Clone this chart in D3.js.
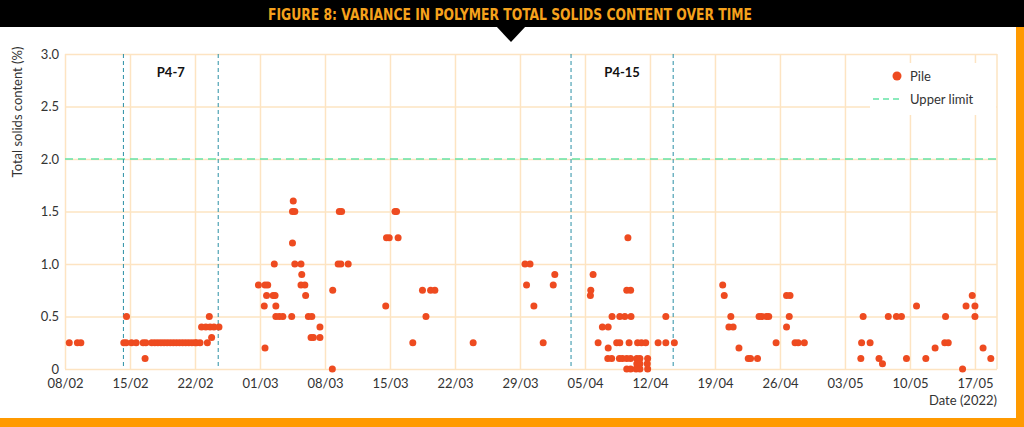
<!doctype html>
<html lang="en">
<head>
  <meta charset="utf-8">
  <title>Figure 8</title>
  <script src="https://d3js.org/d3.v7.min.js"></script>
  <style type="text/css">
    body { margin:0; background:#fff; }
    text { font-family: Lato, "Noto Sans", sans-serif; fill:#333; }
    .grid line, .grid path { stroke:#fde4c2; stroke-width:1.5; }
    .period { stroke:#2a8fa5; stroke-width:1; stroke-dasharray:4,3; }
    .limit { stroke:#66e3a6; stroke-width:1.5; stroke-dasharray:8,5; fill:none; }
    .dot { fill:#ee4b20; }
  </style>
</head>
<body>
<script type="text/javascript">

  var W = 1024, H = 427;
  var plot = {left:65, right:997, top:54, bottom:369};

  var title = "FIGURE 8: VARIANCE IN POLYMER TOTAL SOLIDS CONTENT OVER TIME";

  var xTickLabels = ["08/02","15/02","22/02","01/03","08/03","15/03","22/03","29/03",
                     "05/04","12/04","19/04","26/04","03/05","10/05","17/05"];
  var yTicks = [0, 0.5, 1.0, 1.5, 2.0, 2.5, 3.0];

  var upperLimit = 2.0;
  var periodNames = ["P4-7", "P4-15"];
  var periodStart = ["2022-02-14 07", "2022-04-03 12"];
  var periodEnd   = ["2022-02-24 12", "2022-04-14 12"];

  // pile samples: date-hour, total solids %
  var pileDates = [
    "2022-02-08 11","2022-02-09 08","2022-02-09 17",
    "2022-02-14 15","2022-02-14 08","2022-02-14 14","2022-02-15 04","2022-02-15 16",
    "2022-02-16 10","2022-02-16 17","2022-02-16 15",
    "2022-02-17 08","2022-02-17 16","2022-02-18 00","2022-02-18 08","2022-02-18 16",
    "2022-02-19 00","2022-02-19 08","2022-02-19 16","2022-02-20 00","2022-02-20 08",
    "2022-02-20 16","2022-02-21 00","2022-02-21 08","2022-02-21 16","2022-02-22 00",
    "2022-02-22 04","2022-02-22 13","2022-02-23 08",
    "2022-02-22 17","2022-02-23 04","2022-02-23 15","2022-02-24 01","2022-02-24 14",
    "2022-02-23 13","2022-02-23 19",
    "2022-02-28 20","2022-03-01 13","2022-03-01 20","2022-03-01 11","2022-03-02 17",
    "2022-03-01 13","2022-03-01 17","2022-03-02 10","2022-03-02 15","2022-03-02 13",
    "2022-03-02 17","2022-03-03 02","2022-03-03 11","2022-03-04 10","2022-03-04 12",
    "2022-03-04 14","2022-03-04 12","2022-03-04 18","2022-03-04 18","2022-03-05 10",
    "2022-03-05 12","2022-03-05 10","2022-03-05 20","2022-03-05 22","2022-03-06 05",
    "2022-03-06 14","2022-03-06 12","2022-03-06 18","2022-03-07 11","2022-03-07 11",
    "2022-03-08 20","2022-03-08 19","2022-03-09 10","2022-03-09 17","2022-03-09 13",
    "2022-03-09 19","2022-03-10 12","2022-03-14 13","2022-03-14 15","2022-03-14 22",
    "2022-03-15 21","2022-03-15 13","2022-03-15 17","2022-03-17 11","2022-03-18 12",
    "2022-03-18 21","2022-03-19 09","2022-03-19 20","2022-03-23 23",
    "2022-03-29 13","2022-03-30 02","2022-03-29 17","2022-03-30 12","2022-04-01 18",
    "2022-04-01 14","2022-03-31 12",
    "2022-04-05 21","2022-04-05 15","2022-04-05 14","2022-04-06 10","2022-04-06 21",
    "2022-04-07 12","2022-04-07 22","2022-04-07 12","2022-04-07 11","2022-04-07 21",
    "2022-04-08 10","2022-04-08 18","2022-04-08 18","2022-04-09 07","2022-04-09 23",
    "2022-04-08 17","2022-04-09 01","2022-04-09 12","2022-04-09 22","2022-04-09 12",
    "2022-04-09 22","2022-04-09 18","2022-04-09 12","2022-04-09 22","2022-04-09 15",
    "2022-04-10 16","2022-04-11 02","2022-04-11 13","2022-04-10 14","2022-04-10 22",
    "2022-04-11 18","2022-04-10 14","2022-04-10 22","2022-04-11 17","2022-04-10 12",
    "2022-04-10 22","2022-04-11 18","2022-04-12 21","2022-04-13 17","2022-04-13 17",
    "2022-04-14 15",
    "2022-04-19 20","2022-04-20 00","2022-04-20 17","2022-04-20 12","2022-04-20 23",
    "2022-04-21 14","2022-04-22 14","2022-04-22 20","2022-04-23 14","2022-04-23 18",
    "2022-04-24 01","2022-04-24 13","2022-04-24 19","2022-04-25 14","2022-04-26 17",
    "2022-04-27 02","2022-04-27 00","2022-04-26 17","2022-04-27 15","2022-04-27 23",
    "2022-04-28 15",
    "2022-05-04 17","2022-05-04 19","2022-05-04 23","2022-05-05 17","2022-05-06 16",
    "2022-05-07 01","2022-05-07 16","2022-05-08 13","2022-05-09 02","2022-05-09 15",
    "2022-05-10 17","2022-05-11 17","2022-05-12 17","2022-05-13 18","2022-05-14 03",
    "2022-05-13 20","2022-05-15 16","2022-05-16 01","2022-05-16 17","2022-05-17 00",
    "2022-05-17 00","2022-05-17 21","2022-05-18 17"
  ];
  var pileValues = [
    0.25,0.25,0.25,
    0.5,0.25,0.25,0.25,0.25,
    0.25,0.25,0.1,
    0.25,0.25,0.25,0.25,0.25,
    0.25,0.25,0.25,0.25,0.25,
    0.25,0.25,0.25,0.25,0.25,
    0.25,0.25,0.25,
    0.4,0.4,0.4,0.4,0.4,
    0.5,0.3,
    0.8,0.8,0.8,0.6,0.6,
    0.2,0.7,0.7,0.7,1.0,
    0.5,0.5,0.5,0.5,1.2,
    1.6,1.5,1.5,1.0,1.0,
    0.9,0.8,0.8,0.7,0.5,
    0.5,0.3,0.3,0.3,0.4,
    0.75,0.0,1.0,1.0,1.5,
    1.5,1.0,0.6,1.25,1.25,
    1.25,1.5,1.5,0.25,0.75,
    0.5,0.75,0.75,0.25,
    1.0,1.0,0.8,0.6,0.9,
    0.8,0.25,
    0.9,0.75,0.7,0.25,0.4,
    0.4,0.5,0.2,0.1,0.1,
    0.25,0.25,0.5,0.5,0.5,
    0.1,0.1,0.1,0.1,0.75,
    0.75,0.25,0.0,0.0,1.25,
    0.25,0.25,0.25,0.1,0.1,
    0.1,0.05,0.05,0.05,0.0,
    0.0,0.0,0.25,0.5,0.25,
    0.25,
    0.8,0.7,0.5,0.4,0.4,
    0.2,0.1,0.1,0.1,0.5,
    0.5,0.5,0.5,0.25,0.7,
    0.7,0.5,0.4,0.25,0.25,
    0.25,
    0.1,0.25,0.5,0.25,0.1,
    0.05,0.5,0.5,0.5,0.1,
    0.6,0.1,0.2,0.25,0.25,
    0.5,0.0,0.6,0.7,0.6,
    0.5,0.2,0.1
  ];

  var parseHour = d3.timeParse("%Y-%m-%d %H");
  var parseTick = d3.timeParse("%d/%m/%Y");

  var xScale = d3.scaleTime()
    .domain([parseHour("2022-02-08 00"), parseHour("2022-05-19 09")])
    .range([plot.left, plot.right]);

  var yScale = d3.scaleLinear()
    .domain([0, 3])
    .range([plot.bottom, plot.top]);

  var tickDates = xTickLabels.map(d => parseTick(d + "/2022"));

  var svg = d3.select("body")
    .append("svg")
    .attr("width", W)
    .attr("height", H);

  svg.append("rect").attr("width", W).attr("height", H).attr("fill", "#fff");

  // frame: black title band, pointer, orange edges
  svg.append("rect").attr("x", 0).attr("y", 0).attr("width", W).attr("height", 27).attr("fill", "#000");
  svg.append("path").attr("d", "M496,26 L526,26 L511,42 Z").attr("fill", "#000");
  svg.append("rect").attr("x", 1016).attr("y", 27).attr("width", 8).attr("height", H - 27).attr("fill", "#ff9a00");
  svg.append("rect").attr("x", 0).attr("y", 418).attr("width", W).attr("height", 9).attr("fill", "#ff9a00");

  svg.append("text")
    .attr("x", 510).attr("y", 20)
    .attr("text-anchor", "middle")
    .attr("textLength", 484).attr("lengthAdjust", "spacingAndGlyphs")
    .style("font-family", "'Liberation Sans Narrow', 'DejaVu Sans Condensed', sans-serif")
    .style("font-weight", "bold")
    .style("font-size", "16px")
    .style("fill", "#f6a21c")
    .text(title);

  // grid
  var gx = svg.append("g").attr("class", "grid")
    .attr("transform", "translate(0," + plot.bottom + ")")
    .call(d3.axisBottom(xScale).tickValues(tickDates).tickSize(-(plot.bottom - plot.top)).tickFormat(""));
  gx.select(".domain").remove();

  var gy = svg.append("g").attr("class", "grid")
    .attr("transform", "translate(" + plot.left + ",0)")
    .call(d3.axisLeft(yScale).tickValues(yTicks).tickSize(-(plot.right - plot.left)).tickFormat(""));
  gy.select(".domain").remove();

  svg.append("line").attr("class", "grid")
    .attr("x1", plot.right).attr("x2", plot.right).attr("y1", plot.top).attr("y2", plot.bottom)
    .style("stroke", "#fde4c2").style("stroke-width", 1.5);

  // axis labels
  var ax = svg.append("g")
    .attr("transform", "translate(0," + plot.bottom + ")")
    .call(d3.axisBottom(xScale).tickValues(tickDates).tickSize(0).tickPadding(10)
      .tickFormat((d, i) => xTickLabels[i]));
  ax.select(".domain").remove();
  ax.selectAll("text").style("font-size", "13px").style("fill", "#333");

  var ay = svg.append("g")
    .attr("transform", "translate(" + plot.left + ",0)")
    .call(d3.axisLeft(yScale).tickValues(yTicks).tickSize(0).tickPadding(6)
      .tickFormat(d => d === 0 ? "0" : d3.format(".1f")(d)));
  ay.select(".domain").remove();
  ay.selectAll("text").style("font-size", "13px").style("fill", "#333");

  svg.append("text")
    .attr("transform", "translate(22,112) rotate(-90)")
    .attr("text-anchor", "middle")
    .style("font-size", "13px")
    .text("Total solids content (%)");

  svg.append("text")
    .attr("x", plot.right).attr("y", 405)
    .attr("text-anchor", "end")
    .style("font-size", "13px")
    .text("Date (2022)");

  // upper limit
  svg.append("line").attr("class", "limit")
    .attr("x1", plot.left).attr("x2", plot.right)
    .attr("y1", yScale(upperLimit)).attr("y2", yScale(upperLimit));

  // period markers
  var periods = periodNames.map((n, i) => ({name:n, start:parseHour(periodStart[i]), end:parseHour(periodEnd[i])}));

  periods.forEach(p => {
    [p.start, p.end].forEach(t => {
      svg.append("line").attr("class", "period")
        .attr("x1", xScale(t)).attr("x2", xScale(t))
        .attr("y1", plot.top).attr("y2", plot.bottom);
    });
    svg.append("text")
      .attr("x", (xScale(p.start) + xScale(p.end)) / 2)
      .attr("y", 77)
      .attr("text-anchor", "middle")
      .style("font-size", "13px")
      .style("font-weight", "bold")
      .style("fill", "#111")
      .text(p.name);
  });

  // points
  var pile = pileDates.map((d, i) => ({t:parseHour(d), v:pileValues[i]}));

  svg.selectAll(".dot")
    .data(pile)
    .enter()
    .append("circle")
    .attr("class", "dot")
    .attr("cx", d => xScale(d.t))
    .attr("cy", d => yScale(d.v))
    .attr("r", 3.5);

  // legend
  var lg = svg.append("g");
  lg.append("rect").attr("x", 870).attr("y", 63).attr("width", 126).attr("height", 52).attr("fill", "#fff");
  lg.append("circle").attr("cx", 897).attr("cy", 76).attr("r", 4.5).attr("fill", "#ee4b20");
  lg.append("text").attr("x", 910).attr("y", 81).style("font-size", "13px").text("Pile");
  lg.append("line").attr("class", "limit")
    .attr("x1", 873).attr("x2", 903).attr("y1", 99).attr("y2", 99)
    .style("stroke-dasharray", "6,4");
  lg.append("text").attr("x", 910).attr("y", 104).style("font-size", "13px").text("Upper limit");

</script>
</body>
</html>
